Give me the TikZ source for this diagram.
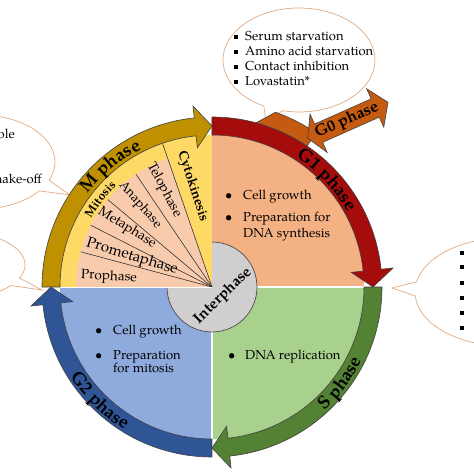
\documentclass[tikz,border=0pt]{standalone}
\usepackage{fontspec}
\setmainfont{TeX Gyre Pagella}
\usetikzlibrary{shapes.callouts,decorations.text}
\definecolor{gonefill}{RGB}{244,177,131}
\definecolor{goneband}{RGB}{165,12,12}
\definecolor{mband}{RGB}{191,144,0}
\definecolor{myellow}{RGB}{255,217,102}
\definecolor{mpeach}{RGB}{248,203,173}
\definecolor{sfill}{RGB}{169,209,142}
\definecolor{sband}{RGB}{84,130,53}
\definecolor{gtwofill}{RGB}{143,170,220}
\definecolor{gtwoband}{RGB}{47,85,151}
\definecolor{interg}{RGB}{208,206,206}
\definecolor{gzero}{RGB}{197,90,17}
\definecolor{bubble}{RGB}{225,170,130}
\newcommand\bandarrow[3]{%
  \pgfmathsetmacro\bb{#2+6}%
  \draw[bandline, fill=#3] (#1:170) arc[start angle=#1, end angle=\bb, radius=170]
    -- (\bb:182) -- (#2:161) -- (\bb:140) -- (\bb:152)
    arc[start angle=\bb, end angle=#1, radius=152] -- cycle;}
\begin{document}
\begin{tikzpicture}[x=1pt,y=1pt,
  bandline/.style={draw=black!75, line width=0.6pt},
  bubblestyle/.style={ellipse callout, draw=bubble, line width=0.7pt, fill=white, inner sep=0pt},
  body/.style={font=\fontsize{13}{15}\selectfont, inner sep=0pt, anchor=base west},
  bodyend/.style={font=\fontsize{13}{15}\selectfont, inner sep=0pt, anchor=base east},
  wedgelbl/.style={font=\fontsize{13.5}{15}\selectfont, inner sep=0pt},
  sqbullet/.style={fill=black, minimum size=3.5pt, inner sep=0pt},
  sepline/.style={draw=black!80, line width=0.6pt},
]
\clip (-212,-187) rectangle (262,287);
\fill[white] (-212,-187) rectangle (262,287);

% callout bubbles
\node[bubblestyle, minimum width=152pt, minimum height=104pt, callout absolute pointer={(54,165)}] (topbubble) at (87,227) {};
\node[bubblestyle, minimum width=150pt, minimum height=94pt, callout absolute pointer={(-142,92)}] (leftbubbleA) at (-232,125) {};
\node[bubblestyle, minimum width=130pt, minimum height=66pt, callout absolute pointer={(-170,-3)}] (leftbubbleB) at (-252,22) {};
\node[bubblestyle, minimum width=180pt, minimum height=108pt, callout absolute pointer={(180,-1)}] (rightbubble) at (293,-5) {};

% top bubble text
\foreach \yy/\tx [count=\i] in {246/Serum starvation, 231/Amino acid starvation, 216/Contact inhibition, 201/Lovastatin*}{
  \node[body] (toptext\i) at (33,\yy) {\tx};
  \node[sqbullet] (topbul\i) at (24,\yy+4) {};
}
% left bubble text (cut by the edge)
\node[bodyend] (lefttextA) at (-197,148) {ole};
\node[bodyend] (lefttextB) at (-170,103) {hake-off};
% right bubble bullets
\foreach \yy [count=\i] in {34,20,4,-11,-26,-41}{
  \node[sqbullet] (rightbul\i) at (250,\yy) {};
}

% quadrants
\fill[gonefill] (0,0) -- (0:152) arc[start angle=0, end angle=90, radius=152] -- cycle;
\fill[sfill] (0,0) -- (-90:152) arc[start angle=-90, end angle=0, radius=152] -- cycle;
\fill[gtwofill] (0,0) -- (180:152) arc[start angle=180, end angle=270, radius=152] -- cycle;
\draw[white, line width=1.2pt] (0:152) -- (0,0) -- (-90:152);

% interphase disc
\draw[fill=interg, draw=black!70, line width=0.7pt] (0,0) circle[radius=45];

% M quadrant
\fill[myellow] (0,0) -- (90:152) arc[start angle=90, end angle=180, radius=152] -- cycle;
\fill[mpeach] (0,0) -- (109:136) arc[start angle=109, end angle=180, radius=136] -- cycle;
\foreach \a in {165,153,140,124}{\draw[sepline] (0,0) -- (\a:136);}
\draw[sepline] (0,0) -- (109:152);
\draw[white, line width=1pt] (180:152) -- (0,0);

% bands
\bandarrow{180}{90}{mband}
\bandarrow{90}{0}{goneband}
\bandarrow{0}{-90}{sband}
\bandarrow{-90}{-180}{gtwoband}

% G0 branch and arrow
\draw[bandline, fill=gzero] (75:170) -- (70:186) arc[start angle=70, end angle=56, radius=186]
  -- (56:170) arc[start angle=56, end angle=75, radius=170] -- cycle;
\begin{scope}[shift={(134,166)}, rotate=24]
  \draw[bandline, fill=gzero] (-30,10) -- (32,10) -- (32,21) -- (46,0) -- (32,-21) -- (32,-10)
    -- (-30,-10) -- (-30,-21) -- (-42,0) -- (-30,21) -- cycle;
  \node[rotate=24, font=\fontsize{16}{16}\selectfont\bfseries, inner sep=0pt] (gzerolbl) at (1,0) {G0 phase};
\end{scope}

% band labels
\path[decorate, decoration={text along path, text align=center,
  text={|\fontsize{18}{18}\selectfont\bfseries|M phase}}]
  (160:155) arc[start angle=160, end angle=100, radius=155];
\path[decorate, decoration={text along path, text align=center,
  text={|\fontsize{18}{18}\selectfont\bfseries|G1 phase}}]
  (73:155) arc[start angle=73, end angle=13, radius=155];
\path[decorate, decoration={text along path, text align=center,
  text={|\fontsize{18}{18}\selectfont\bfseries|S phase}}]
  (-67:167) arc[start angle=-67, end angle=-7, radius=167];
\path[decorate, decoration={text along path, text align=center,
  text={|\fontsize{18}{18}\selectfont\bfseries|G2 phase}}]
  (195.5:167) arc[start angle=195.5, end angle=255.5, radius=167];
\path[decorate, decoration={text along path, text align=center,
  text={|\fontsize{12}{12}\selectfont\bfseries|Mitosis}}]
  (166:139) arc[start angle=166, end angle=118, radius=139];

% wedge labels
\node[wedgelbl, rotate=-3] (prophase) at (-103,10) {Prophase};
\node[wedgelbl, rotate=-17, font=\fontsize{15}{15}\selectfont] (prometa) at (-80,30) {Prometaphase};
\node[wedgelbl, rotate=-32] (metaphase) at (-85,59) {Metaphase};
\node[wedgelbl, rotate=-49, font=\fontsize{13}{15}\selectfont] (anaphase) at (-72,82) {Anaphase};
\node[wedgelbl, rotate=-62] (telophase) at (-48,97) {Telophase};
\node[wedgelbl, rotate=-72, font=\fontsize{13.5}{15}\selectfont\bfseries] (cytokin) at (-19.5,100.5) {Cytokinesis};

% interphase label
\node[rotate=44, font=\fontsize{15}{15}\selectfont\bfseries, inner sep=0pt] (interlbl) at (11,-9) {Interphase};

% quadrant texts
\node[body] (gonebulA) at (13,88) {•};
\node[body] (gonetextA) at (31,88) {Cell growth};
\node[body] (gonebulB) at (13,65) {•};
\node[body] (gonetextB) at (31,65) {Preparation for};
\node[body] (gonetextC) at (31,50) {DNA synthesis};
\node[body] (gtwobulA) at (-117,-47) {•};
\node[body] (gtwotextA) at (-99,-47) {Cell growth};
\node[body] (gtwobulB) at (-117,-72) {•};
\node[body] (gtwotextB) at (-99,-72) {Preparation};
\node[body] (gtwotextC) at (-99,-85) {for mitosis};
\node[body] (sbul) at (16,-72) {•};
\node[body] (stext) at (33,-72) {DNA replication};
\end{tikzpicture}
\end{document}
